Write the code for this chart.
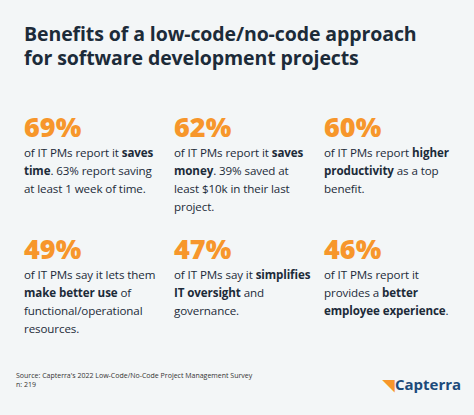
<!DOCTYPE html>
<html><head><meta charset="utf-8">
<script src="https://cdn.jsdelivr.net/npm/chart.js@4"></script>
<style>
body{margin:0;width:474px;height:415px;background:#f3f6f7;font-family:"Open Sans",sans-serif;color:#1c2b39;position:relative;overflow:hidden}
h1{position:absolute;left:24px;top:22px;margin:0;font-size:19.5px;line-height:24px;font-weight:700;letter-spacing:-0.1px}
.c{position:absolute;width:140px}
.p{color:#f7962b;font-size:27px;font-weight:800;line-height:30px}
.t{font-size:11.6px;line-height:18px;margin-top:2px;letter-spacing:-0.1px}
.t b{font-weight:700}
.src{position:absolute;left:16px;top:371px;font-size:7px;line-height:9px;color:#333}
.logo{position:absolute;left:383px;top:374px;font-size:15px;font-weight:700;color:#1c4a7a}
.logo span{color:#f7962b}
</style></head><body>
<h1>Benefits of a low-code/no-code approach<br>for software development projects</h1>
<div id="grid"></div>
<div class="src">Source: Capterra's 2022 Low-Code/No-Code Project Management Survey<br>n: 219</div>
<div class="logo"><span>&#x25E5;</span>Capterra</div>
<script>
const percents = ['69%', '62%', '60%', '49%', '47%', '46%'];
const texts = [
  'of IT PMs report it <b>saves time</b>. 63% report saving at least 1 week of time.',
  'of IT PMs report it <b>saves money</b>. 39% saved at least $10k in their last project.',
  'of IT PMs report <b>higher productivity</b> as a top benefit.',
  'of IT PMs say it lets them <b>make better use</b> of functional/operational resources.',
  'of IT PMs say it <b>simplifies IT oversight</b> and governance.',
  'of IT PMs report it provides a <b>better employee experience</b>.'
];
const grid = document.getElementById('grid');
percents.forEach((p, i) => {
  const d = document.createElement('div');
  d.className = 'c';
  d.style.left = (24 + (i % 3) * 150) + 'px';
  d.style.top = (i < 3 ? 112 : 234) + 'px';
  d.innerHTML = `<div class="p">${p}</div><div class="t">${texts[i]}</div>`;
  grid.appendChild(d);
});
</script>
</body></html>
